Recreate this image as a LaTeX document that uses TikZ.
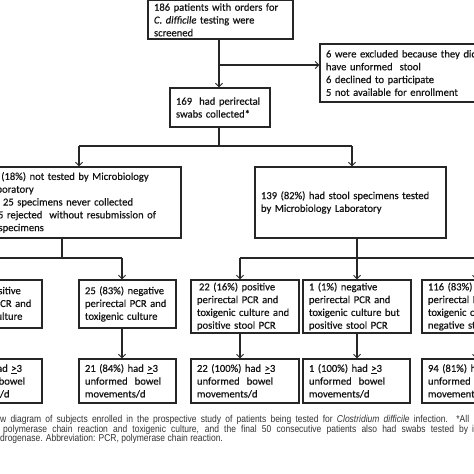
\documentclass[tikz,border=0pt]{standalone}
\usepackage{fontspec}
\setmainfont{Carlito}[FakeBold=0.45]
\newfontfamily\capfont[FakeStretch=0.85]{Liberation Sans}
\usetikzlibrary{arrows.meta}
\newcommand\mybox[6]{%
  \pgfmathsetmacro\bw{#4-#2}\pgfmathsetmacro\bh{#5-#3}\pgfmathsetmacro\tw{#4-#2-12}%
  \node[box, minimum width=\bw pt, minimum height=\bh pt, text width=\tw pt] (#1) at ({(#2+#4)/2},{(#3+#5)/2}) {#6};}
\begin{document}
\begin{tikzpicture}[x=1pt,y=-1pt,
  box/.style={draw=black!85, line width=1.1pt, align=left, inner xsep=6pt, inner ysep=2pt,
    font=\fontsize{10.6}{12.8}\selectfont, text=black!92},
  conn/.style={draw=black!85, line width=1.1pt},
  arr/.style={-{Straight Barb[length=3.5pt,width=7pt,line width=1pt]}},
  captext/.style={inner sep=0pt, text=black!80, font=\capfont\fontsize{10}{10}\selectfont}]
\useasboundingbox (0,0) rectangle (474,474);
\fill[white] (0,0) rectangle (474,474);
\clip (0,0) rectangle (474,474);

\mybox{top}{148}{0.8}{293}{39}{186 patients with orders for\\ \textit{C. difficile} testing were\\ screened}
\mybox{excl}{320}{44}{545}{102}{6 were excluded because they did not\\ have unformed\ \ stool\\ 6 declined to participate\\ 5 not available for enrollment}
\mybox{swab}{170}{88}{270}{127}{169\ \ had perirectal\\ swabs collected*}
\mybox{nt}{-19}{167}{181}{238}{30 (18\%) not tested by Microbiology\\ Laboratory\\ \hspace*{16pt}25 specimens never collected\\ \hspace*{11pt}5 rejected\ \ without resubmission of\\ \hspace*{11.5pt}specimens}
\mybox{tested}{255}{167}{446}{238}{139 (82\%) had stool specimens tested\\ by Microbiology Laboratory}
\mybox{ra}{-56}{280}{42}{328}{5 (17\%) positive\\ perirectal PCR and\\ toxigenic culture}
\mybox{rb}{79}{280}{176}{328}{25 (83\%) negative\\ perirectal PCR and\\ toxigenic culture}
\mybox{rc}{191}{280}{299}{333}{\hspace*{2pt}22 (16\%) positive\\ perirectal PCR and\\ toxigenic culture and\\ positive stool PCR}
\mybox{rd}{303}{280}{411}{333}{1 (1\%) negative\\ perirectal PCR and\\ toxigenic culture but\\ positive stool PCR}
\mybox{re}{422}{280}{530}{333}{116 (83\%) negative\\ perirectal PCR and\\ toxigenic culture and\\ negative stool PCR}
\mybox{qa}{-57}{359}{42}{403}{5 (100\%) had \underline{>}3\\ unformed\ \ bowel\\ movements/d}
\mybox{qb}{79}{359}{176}{403}{21 (84\%) had \underline{>}3\\ unformed\ \ bowel\\ movements/d}
\mybox{qc}{191}{359}{299}{403}{22 (100\%) had \underline{>}3\\ unformed\ \ bowel\\ movements/d}
\mybox{qd}{303}{359}{410}{403}{1 (100\%) had \underline{>}3\\ unformed\ \ bowel\\ movements/d}
\mybox{qe}{422}{359}{530}{403}{94 (81\%) had \underline{>}3\\ unformed\ \ bowel\\ movements/d}

% connectors
\coordinate (j1) at (219,65);
\draw[conn,arr] (top.south -| j1) -- (swab.north -| j1);
\draw[conn,arr] (j1) -- (j1 -| excl.west);
\coordinate (s1) at (219,146);
\coordinate (s1L) at (79,146);
\coordinate (s1R) at (352,146);
\draw[conn] (swab.south -| s1) -- (s1);
\draw[conn] (s1L) -- (s1R);
\draw[conn,arr] (s1L) -- (nt.north -| s1L);
\draw[conn,arr] (s1R) -- (tested.north -| s1R);
\coordinate (s2) at (62,258);
\coordinate (s2L) at (-7,258);
\coordinate (s2R) at (122,258);
\draw[conn] (nt.south -| s2) -- (s2);
\draw[conn] (s2L) -- (s2R);
\draw[conn,arr] (s2L) -- (ra.north -| s2L);
\draw[conn,arr] (s2R) -- (rb.north -| s2R);
\coordinate (s3) at (357,258);
\coordinate (s3L) at (240,258);
\coordinate (s3R) at (476,258);
\draw[conn] (tested.south -| s3) -- (s3);
\draw[conn] (s3L) -- (s3R);
\draw[conn,arr] (s3L) -- (rc.north -| s3L);
\draw[conn,arr] (s3) -- (rd.north -| s3);
\draw[conn,arr] (s3R) -- (re.north -| s3R);
\draw[conn,arr] (ra.south -| s2L) -- (qa.north -| s2L);
\draw[conn,arr] (rb.south -| s2R) -- (qb.north -| s2R);
\draw[conn,arr] (rc.south -| s3L) -- (qc.north -| s3L);
\draw[conn,arr] (rd.south -| s3) -- (qd.north -| s3);
\draw[conn,arr] (re.south -| s3R) -- (qe.north -| s3R);

% caption
\node[captext, anchor=base west] (c1) at (0,422) {\makebox[469pt][s]{\llap{Flo}w diagram of subjects enrolled in the prospective study of patients being tested for \textit{Clostridium difficile} infection. *All}};
\node[captext, anchor=base west] (c2) at (3,432) {\makebox[465pt][s]{\llap{swabs were tested by\hspace{6pt}}polymerase chain reaction and toxigenic culture, and the final 50 consecutive patients also had swabs tested by}\rlap{\hspace{4pt}immunoassay for glutamate}};
\node[captext, anchor=base west] (c3) at (0,441.5) {\llap{dehy}drogenase. Abbreviation: PCR, polymerase chain reaction.};
\end{tikzpicture}
\end{document}
